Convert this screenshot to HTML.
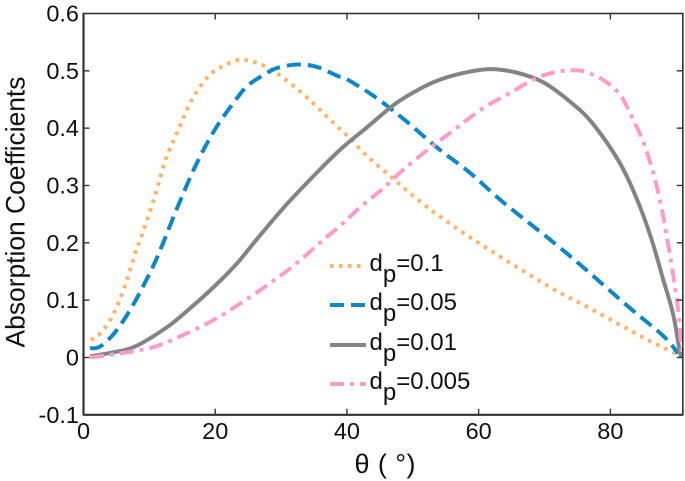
<!DOCTYPE html>
<html>
<head>
<meta charset="utf-8">
<title>Absorption Coefficients</title>
<style>
html,body{margin:0;padding:0;background:#fff;width:685px;height:481px;overflow:hidden}
svg{display:block}
text{font-family:"Liberation Sans",sans-serif;fill:#111}
</style>
</head>
<body>
<svg id="chart" width="685" height="481" viewBox="0 0 685 481"></svg>
<script>
const xTicks = [0, 20, 40, 60, 80];
const yTicks = [-0.1, 0, 0.1, 0.2, 0.3, 0.4, 0.5, 0.6];
const yTickLabels = ['-0.1', '0', '0.1', '0.2', '0.3', '0.4', '0.5', '0.6'];
const xAxisTitle = 'θ ( °)';
const yAxisTitle = 'Absorption Coefficients';

const thetaP1 = [1.1,2.4,4.3,6.15,8,8.7,10.7,12.5,14.4,16.3,18.9,21.5,23.8,26.3,29.1,32.9,36.2,38.6,39.8,43,46.7,49.1,52.8,56.7,59.3,64.5,71.4,76.9,82.4,86.8,90];
const valuesP1 = [.031,.04,.07,.12,.187,.208,.276,.346,.397,.446,.49,.51,.519,.514,.498,.464,.429,.402,.39,.352,.315,.291,.257,.225,.205,.167,.119,.086,.051,.024,.007];

const thetaP05 = [1,2.5,4.8,7.5,10.4,12.1,14.2,17.2,20.2,23.3,25,27.8,29.4,32.4,35.4,38.6,39.9,44.2,48.8,53.8,58.7,63.7,70.9,75.9,83,88,90.3];
const valuesP05 = [.016,.019,.044,.091,.155,.2,.26,.339,.402,.452,.475,.496,.505,.511,.507,.491,.486,.455,.414,.365,.322,.271,.205,.157,.086,.038,.007];

const thetaP01 = [1,4.5,7.8,12.7,16.2,19.7,23.3,26.3,30.3,35.4,39.4,42.9,46.7,49,53.1,57.2,61.7,65.7,69.8,73.9,77.1,81.2,83.9,86.2,88,89.5,90.4,90.8];
const valuesP01 = [.002,.009,.019,.053,.086,.122,.164,.206,.26,.322,.367,.4,.437,.455,.48,.495,.503,.497,.48,.446,.411,.344,.28,.208,.137,.077,.02,0];

const thetaP005 = [1,5.5,10.6,14.7,19.7,23.8,27.9,31.9,36,39.4,42,45.5,48.8,52.6,56.6,60.7,64.7,68.7,71.8,74.3,76.3,79.2,81.5,83,85,86.5,87.6,88.5,89.5,90.3,90.9];
const valuesP005 = [0,.007,.018,.037,.065,.094,.126,.16,.201,.234,.262,.295,.33,.365,.4,.435,.461,.487,.498,.501,.498,.482,.458,.426,.376,.323,.27,.216,.147,.082,0];

const NS = 'http://www.w3.org/2000/svg';
const svg = document.getElementById('chart');
const L = 83.5, R = 682.8, T = 13.5, B = 414.8;
const xMin = 0, xMax = 91, yMin = -0.1, yMax = 0.6;
function xScale(v){ return L + (v - xMin) / (xMax - xMin) * (R - L); }
function yScale(v){ return B - (v - yMin) / (yMax - yMin) * (B - T); }
function make(tag, attrs, parent){
  const el = document.createElementNS(NS, tag);
  for (const k in attrs) el.setAttribute(k, attrs[k]);
  (parent || svg).appendChild(el);
  return el;
}
function smoothPath(xs, ys){
  const pts = xs.map(function(t, i){ return [xScale(t), yScale(ys[i])]; });
  let d = 'M' + pts[0][0].toFixed(1) + ' ' + pts[0][1].toFixed(1);
  for (let i = 0; i < pts.length - 1; i++) {
    const p0 = pts[Math.max(0, i - 1)], p1 = pts[i], p2 = pts[i + 1], p3 = pts[Math.min(pts.length - 1, i + 2)];
    const c1x = p1[0] + (p2[0] - p0[0]) / 6, c1y = p1[1] + (p2[1] - p0[1]) / 6;
    const c2x = p2[0] - (p3[0] - p1[0]) / 6, c2y = p2[1] - (p3[1] - p1[1]) / 6;
    d += 'C' + c1x.toFixed(1) + ' ' + c1y.toFixed(1) + ' ' + c2x.toFixed(1) + ' ' + c2y.toFixed(1) + ' ' + p2[0].toFixed(1) + ' ' + p2[1].toFixed(1);
  }
  return d;
}

const seriesList = [
  {theta: thetaP1, values: valuesP1, color: '#fdb56e', dash: '3.6 5.4', name: 'series-dp-0-1', label: '=0.1', legendKey: 'legend-entry-dp-0-1', y: 266},
  {theta: thetaP05, values: valuesP05, color: '#0f86c6', dash: '14 7', name: 'series-dp-0-05', label: '=0.05', legendKey: 'legend-entry-dp-0-05', y: 305},
  {theta: thetaP01, values: valuesP01, color: '#848484', dash: 'none', name: 'series-dp-0-01', label: '=0.01', legendKey: 'legend-entry-dp-0-01', y: 345},
  {theta: thetaP005, values: valuesP005, color: '#ff9ccb', dash: '14 6 4 6', name: 'series-dp-0-005', label: '=0.005', legendKey: 'legend-entry-dp-0-005', y: 384}
];

seriesList.forEach(function(s){
  const line = make('path', {d: smoothPath(s.theta, s.values), fill: 'none', stroke: s.color, 'stroke-width': 4, 'stroke-linejoin': 'round', 'stroke-dasharray': s.dash});
  
  
});

const frame = make('rect', {x: L, y: T, width: R - L, height: B - T, fill: 'none', stroke: '#333', 'stroke-width': 1.6});


const leftAxis = make('line', {x1: L, x2: L, y1: T, y2: B, stroke: '#333', 'stroke-width': 2.2});


const bottomAxis = make('line', {x1: L, x2: R, y1: B, y2: B, stroke: '#333', 'stroke-width': 2.2});



xTicks.forEach(function(v){
  const x = xScale(v);
  if (v !== 0) {
    const t1 = make('line', {x1: x, x2: x, y1: B, y2: B - 6, stroke: '#333', 'stroke-width': 1.4});
    
    
    const t2 = make('line', {x1: x, x2: x, y1: T, y2: T + 6, stroke: '#333', 'stroke-width': 1.4});
    
    
  }
  const lab = make('text', {x: x, y: 439, 'font-size': 23.5, 'text-anchor': 'middle'});
  lab.textContent = String(v);
  
  
});

yTicks.forEach(function(v, i){
  const y = yScale(v);
  if (i > 0 && i < yTicks.length - 1) {
    const t1 = make('line', {x1: L, x2: L + 6, y1: y, y2: y, stroke: '#333', 'stroke-width': 1.4});
    
    
    const t2 = make('line', {x1: R, x2: R - 6, y1: y, y2: y, stroke: '#333', 'stroke-width': 1.4});
    
    
  }
  const lab = make('text', {x: 79, y: y + 8, 'font-size': 23.5, 'text-anchor': 'end'});
  lab.textContent = yTickLabels[i];
  
  
});

const yTitle = make('text', {x: 0, y: 0, 'font-size': 26.4, 'text-anchor': 'middle', transform: 'translate(24.5,212) rotate(-90)'});
yTitle.textContent = yAxisTitle;



const xTitle = make('text', {x: 354.5, y: 473, 'font-size': 27, textLength: 61});
xTitle.textContent = xAxisTitle;



seriesList.forEach(function(s){
  const g = make('g', {});
  
  
  const sample = make('line', {x1: 330, x2: 366, y1: s.y, y2: s.y, stroke: s.color, 'stroke-width': 4, 'stroke-dasharray': s.dash}, g);
  
  
  const txt = make('text', {x: 369.5, y: s.y + 5, 'font-size': 24}, g);
  
  
  const d = make('tspan', {}, txt);
  d.textContent = 'd';
  const p = make('tspan', {dy: 11}, txt);
  p.textContent = 'p';
  const rest = make('tspan', {dy: -11}, txt);
  rest.textContent = s.label;
});
</script>
</body>
</html>
